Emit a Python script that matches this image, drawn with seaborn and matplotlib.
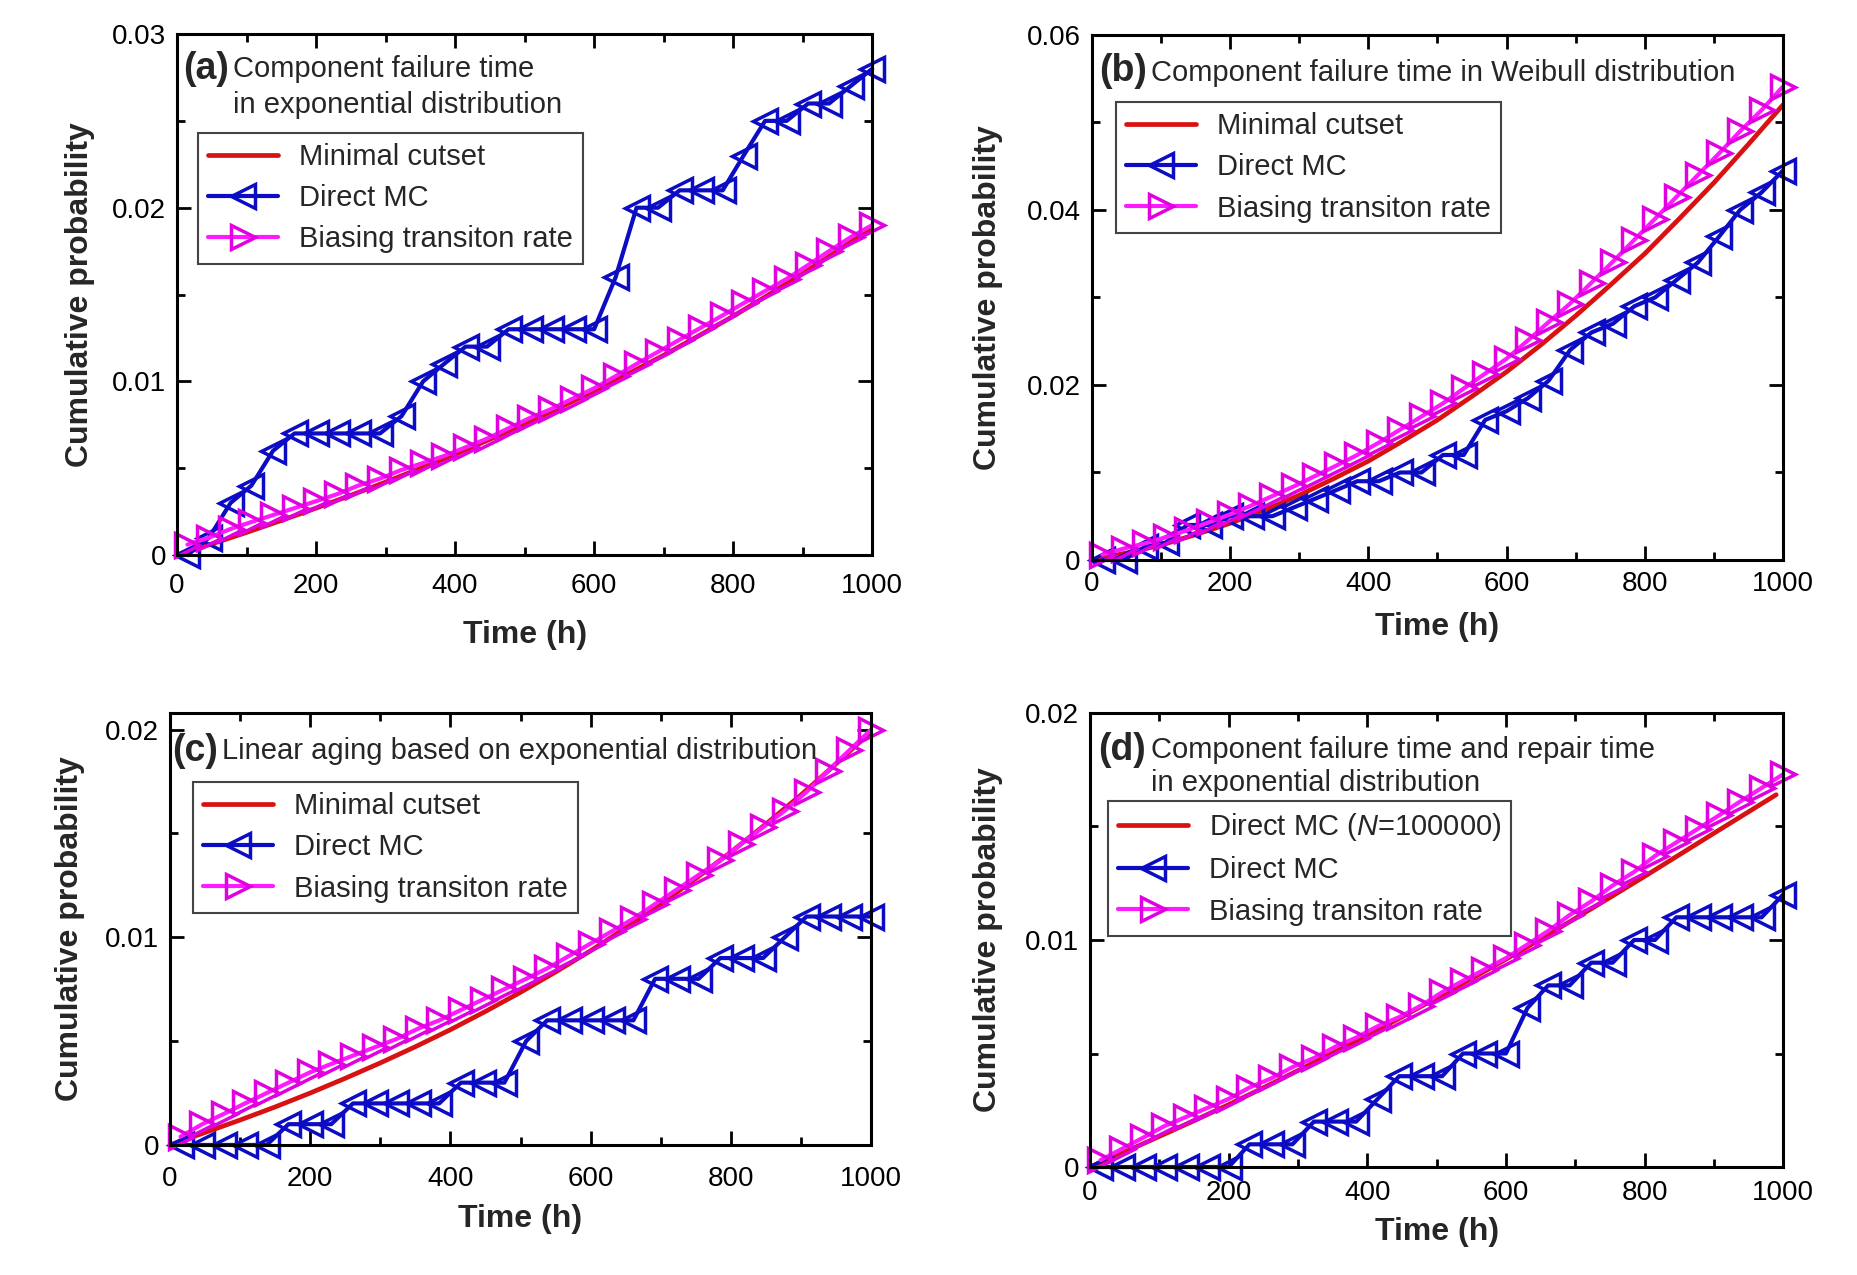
import numpy as np
import matplotlib
matplotlib.use("Agg")
import matplotlib.pyplot as plt
from matplotlib.ticker import MultipleLocator, FuncFormatter
import seaborn as sns

# time grid of the simulated points (h)
t_mc = [15, 46, 77, 107, 138, 169, 200, 230, 261, 292, 323, 354, 384, 415, 446, 477,
        508, 538, 569, 600, 631, 661, 692, 723, 754, 785, 815, 846, 877, 908, 938, 969, 1000]
t_ref = [0, 50, 100, 150, 200, 250, 300, 350, 400, 450, 500, 550, 600, 650, 700, 750,
         800, 850, 900, 950, 1000]
t_ref_d = [0, 50, 100, 150, 200, 250, 300, 350, 400, 450, 500, 550, 600, 650, 700, 750,
           800, 850, 900, 945, 990]

# (a) exponential failure time
ref_a = [0, 0.00064, 0.0013, 0.00199, 0.0027, 0.00344, 0.0042, 0.00499, 0.0058, 0.00666,
         0.00755, 0.00848, 0.00945, 0.01046, 0.0115, 0.01261, 0.01375, 0.01496, 0.0162,
         0.01751, 0.01885]
mc_a = [0, 0.001, 0.003, 0.004, 0.006, 0.007, 0.007, 0.007, 0.007, 0.007, 0.008, 0.010,
        0.011, 0.012, 0.012, 0.013, 0.013, 0.013, 0.013, 0.013, 0.016, 0.020, 0.020, 0.021,
        0.021, 0.021, 0.023, 0.025, 0.025, 0.026, 0.026, 0.027, 0.028]
bias_a = [0.0006, 0.0010, 0.0015, 0.0019, 0.0023, 0.0027, 0.0031, 0.0035, 0.0040, 0.0044,
          0.0049, 0.0053, 0.0057, 0.0062, 0.0067, 0.0073, 0.0079, 0.0084, 0.0090, 0.0096,
          0.0103, 0.0110, 0.0117, 0.0124, 0.0131, 0.0138, 0.0145, 0.0152, 0.0159, 0.0167,
          0.0175, 0.0183, 0.0190]

# (b) Weibull failure time
ref_b = [0, 0.0008, 0.0017, 0.0029, 0.0042, 0.0057, 0.0074, 0.0093, 0.0113, 0.0136,
         0.0160, 0.0187, 0.0215, 0.0246, 0.0279, 0.0314, 0.0350, 0.0390, 0.0431, 0.0475,
         0.0520]
mc_b = [0, 0, 0.0015, 0.002, 0.004, 0.004, 0.005, 0.005, 0.005, 0.006, 0.007, 0.008,
        0.009, 0.009, 0.010, 0.010, 0.012, 0.012, 0.016, 0.017, 0.0185, 0.0205, 0.024, 0.026,
        0.027, 0.029, 0.030, 0.032, 0.034, 0.037, 0.040, 0.042, 0.0445]
bias_b = [0.0006, 0.0013, 0.0019, 0.0026, 0.0034, 0.0043, 0.0052, 0.0062, 0.0073, 0.0084,
          0.0096, 0.0108, 0.0120, 0.0134, 0.0149, 0.0164, 0.0179, 0.0196, 0.0213, 0.0230,
          0.0251, 0.0272, 0.0293, 0.0317, 0.0341, 0.0366, 0.0390, 0.0415, 0.0440, 0.0465,
          0.0490, 0.0514, 0.0541]

# (c) linear aging
ref_c = [0, 0.0006, 0.0012, 0.00183, 0.0025, 0.00321, 0.00395, 0.00473, 0.00555, 0.00643,
         0.00735, 0.00833, 0.00935, 0.01045, 0.0116, 0.01283, 0.0141, 0.01545, 0.01685,
         0.01835, 0.0199]
mc_c = [0, 0, 0, 0, 0, 0.001, 0.001, 0.001, 0.002, 0.002, 0.002, 0.002, 0.002, 0.003,
        0.003, 0.003, 0.005, 0.006, 0.006, 0.006, 0.006, 0.006, 0.008, 0.008, 0.008, 0.009,
        0.009, 0.009, 0.010, 0.011, 0.011, 0.011, 0.011]
bias_c = [0.0004, 0.0010, 0.0015, 0.0020, 0.0025, 0.0030, 0.0035, 0.0039, 0.0043, 0.0047,
          0.0051, 0.0056, 0.0060, 0.0065, 0.0070, 0.0075, 0.0080, 0.0085, 0.0091, 0.0097,
          0.0103, 0.0109, 0.0116, 0.0123, 0.0130, 0.0137, 0.0145, 0.0153, 0.0161, 0.0170,
          0.0180, 0.0190, 0.0200]

# (d) failure and repair time
ref_d = [0, 0.00066, 0.00135, 0.00204, 0.00275, 0.00349, 0.00425, 0.00502, 0.0058,
         0.00661, 0.00745, 0.00829, 0.00915, 0.01004, 0.01095, 0.01187, 0.0128, 0.01375,
         0.0147, 0.01555, 0.0164]
mc_d = [0, 0, 0, 0, 0, 0, 0, 0.001, 0.001, 0.001, 0.002, 0.002, 0.002, 0.003, 0.004,
        0.004, 0.004, 0.005, 0.005, 0.005, 0.007, 0.008, 0.008, 0.009, 0.009, 0.010, 0.010,
        0.011, 0.011, 0.011, 0.011, 0.011, 0.012]
bias_d = [0.0003, 0.0008, 0.0013, 0.0018, 0.0022, 0.0026, 0.0030, 0.0035, 0.0039, 0.0044,
          0.0048, 0.0053, 0.0057, 0.0062, 0.0066, 0.0071, 0.0077, 0.0082, 0.0087, 0.0092,
          0.0098, 0.0104, 0.0111, 0.0117, 0.0124, 0.0130, 0.0137, 0.0143, 0.0149, 0.0155,
          0.0161, 0.0167, 0.0173]

sns.set_theme(style="ticks")
plt.rcParams["font.family"] = ["Liberation Sans", "DejaVu Sans"]
plt.rcParams["mathtext.fontset"] = "custom"
plt.rcParams["mathtext.rm"] = "Liberation Sans"
plt.rcParams["mathtext.it"] = "Liberation Sans:italic"

RED = "#d81212"
BLUE = "#0c0cc4"
MAG = "#ff1aff"
MAG_EDGE = "#e000e0"

fig = plt.figure(figsize=(18.58, 12.75), dpi=100)

panels = [
    dict(rect=[0.0953, 0.5647, 0.3741, 0.4086], ylim=(0, 0.03), ymaj=0.01,
         ref=(t_ref, ref_a), mc=mc_a, bias=bias_a, tag="(a)", tag_x=0.008, tag_y=0.933,
         lines=["Component failure time", "in exponential distribution"],
         line_y=[0.933, 0.864], title_x=0.080, leg=(0.030, 0.810),
         xpad=13, xlabelpad=15, ylabelpad=12, ref_label="Minimal cutset"),
    dict(rect=[0.5877, 0.5608, 0.3719, 0.4118], ylim=(0, 0.06), ymaj=0.02,
         ref=(t_ref, ref_b), mc=mc_b, bias=bias_b, tag="(b)", tag_x=0.010, tag_y=0.931,
         lines=["Component failure time in Weibull distribution"],
         line_y=[0.928], title_x=0.086, leg=(0.035, 0.872),
         xpad=8, xlabelpad=11, ylabelpad=17, ref_label="Minimal cutset"),
    dict(rect=[0.0915, 0.1020, 0.3773, 0.3388], ylim=(0, 0.0208), ymaj=0.01,
         ref=(t_ref, ref_c), mc=mc_c, bias=bias_c, tag="(c)", tag_x=0.003, tag_y=0.912,
         lines=["Linear aging based on exponential distribution"],
         line_y=[0.912], title_x=0.074, leg=(0.033, 0.840),
         xpad=15, xlabelpad=9, ylabelpad=14, ref_label="Minimal cutset"),
    dict(rect=[0.5867, 0.0847, 0.3730, 0.3561], ylim=(0, 0.02), ymaj=0.01,
         ref=(t_ref_d, ref_d), mc=mc_d, bias=bias_d, tag="(d)", tag_x=0.012, tag_y=0.918,
         lines=["Component failure time and repair time", "in exponential distribution"],
         line_y=[0.918, 0.846], title_x=0.088, leg=(0.026, 0.806),
         xpad=9, xlabelpad=8, ylabelpad=16, ref_label="Direct MC ($\\mathit{N}$=100000)"),
]

fmt = FuncFormatter(lambda v, pos: "0" if abs(v) < 1e-12 else f"{v:g}")

for p in panels:
    ax = fig.add_axes(p["rect"])
    sns.lineplot(x=p["ref"][0], y=p["ref"][1], ax=ax, color=RED, linewidth=3.4,
                 label=p["ref_label"])
    sns.lineplot(x=t_mc, y=p["mc"], ax=ax, color=BLUE, linewidth=3, marker="<",
                 markersize=17, markerfacecolor="none", markeredgecolor=BLUE,
                 markeredgewidth=2.5, label="Direct MC", clip_on=False)
    sns.lineplot(x=t_mc, y=p["bias"], ax=ax, color=MAG, linewidth=3, marker=">",
                 markersize=17, markerfacecolor="none", markeredgecolor=MAG_EDGE,
                 markeredgewidth=2.5, label="Biasing transiton rate", clip_on=False)

    ax.set_xlim(0, 1000)
    ax.set_ylim(*p["ylim"])
    ax.xaxis.set_major_locator(MultipleLocator(200))
    ax.xaxis.set_minor_locator(MultipleLocator(100))
    ax.yaxis.set_major_locator(MultipleLocator(p["ymaj"]))
    ax.yaxis.set_minor_locator(MultipleLocator(p["ymaj"] / 2))
    ax.yaxis.set_major_formatter(fmt)
    ax.tick_params(which="both", direction="in", top=True, right=True, width=2,
                   labelsize=20, colors="black")
    ax.tick_params(axis="y", pad=8)
    ax.tick_params(axis="x", pad=p["xpad"])
    ax.tick_params(which="major", length=10)
    ax.tick_params(which="minor", length=6)
    for s in ax.spines.values():
        s.set_linewidth(2.2)
        s.set_color("black")

    ax.set_xlabel("Time (h)", fontsize=23, fontweight="bold", labelpad=p["xlabelpad"])
    ax.set_ylabel("Cumulative probability", fontsize=23, fontweight="bold",
                  labelpad=p["ylabelpad"])

    ax.text(p["tag_x"], p["tag_y"], p["tag"], transform=ax.transAxes, fontsize=27,
            fontweight="bold", va="center", ha="left")
    for line, ly in zip(p["lines"], p["line_y"]):
        ax.text(p["title_x"], ly, line, transform=ax.transAxes, fontsize=21,
                va="center", ha="left")

    leg = ax.legend(loc="upper left", bbox_to_anchor=p["leg"], borderaxespad=0,
                    fontsize=21, frameon=True, fancybox=False, framealpha=1,
                    edgecolor="#444444", handlelength=2.4, handletextpad=0.7,
                    borderpad=0.35, labelspacing=0.45)
    leg.get_frame().set_linewidth(1.5)

fig.savefig("out.png", dpi=100, facecolor="white")
